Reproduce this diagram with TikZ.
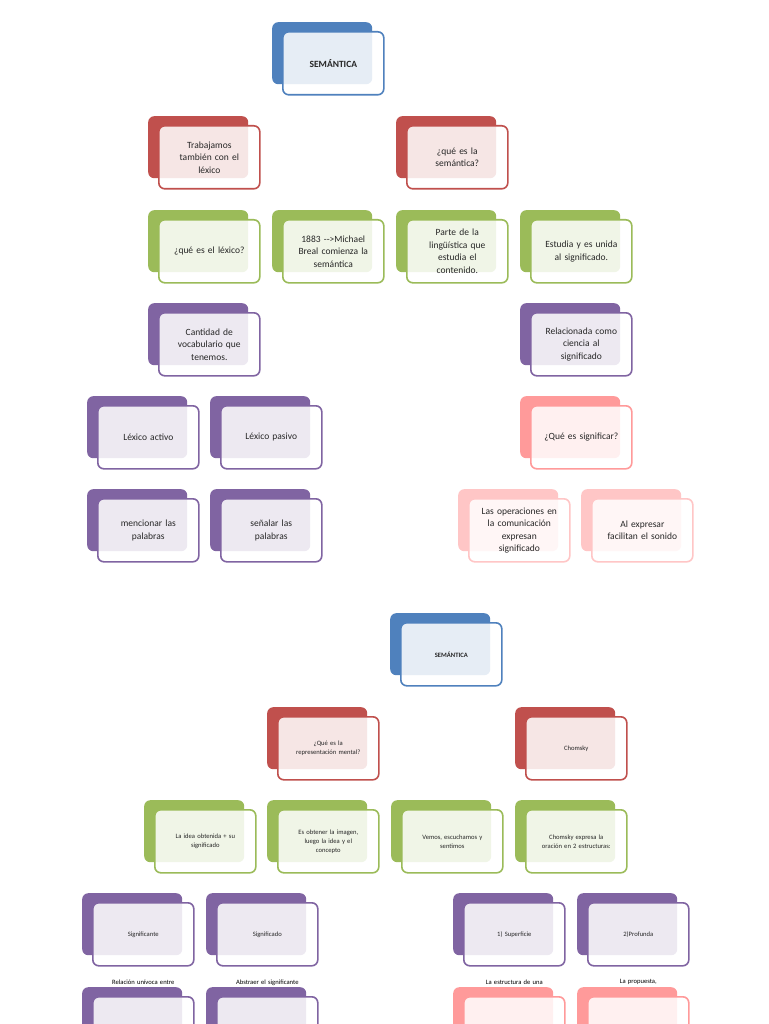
\documentclass[tikz,border=0pt]{standalone}
\usepackage{fontspec}
\setmainfont{Carlito}
\usetikzlibrary{calc,backgrounds}

\definecolor{cblue}{HTML}{4F81BD}
\definecolor{cred}{HTML}{C0504D}
\definecolor{cgreen}{HTML}{9BBB59}
\definecolor{cpurple}{HTML}{8064A2}
\definecolor{cpink}{HTML}{FF9A9A}
\definecolor{clpink}{HTML}{FFC6C6}

\tikzset{
  back/.style={anchor=north west,fill=#1,draw=none,rounded corners=6pt,
    minimum width=100pt,minimum height=62pt,inner sep=0pt},
  front/.style={anchor=north west,draw=#1,line width=1.6pt,fill=white,fill opacity=0.86,
    text opacity=1,rounded corners=6pt,minimum width=101pt,minimum height=63pt,
    align=center,text width=88pt,inner sep=0pt,text=black!85},
  big/.style={font=\fontsize{9.5}{12.5}\selectfont},
  small/.style={font=\fontsize{6.6}{9}\selectfont,text width=84pt},
  link/.style={draw=#1,line width=1.5pt}
}
% a card: name, x, y, colour, text, font style
\newcommand\card[6]{%
  \node[back=#4] (#1-b) at (#2,#3) {};
  \node[front=#4,#6] (#1) at ({#2+10},{#3+9}) {#5};}
% a card whose lower part runs off the page
\newcommand\cutcard[6]{%
  \node[back=#4] (#1-b) at (#2,#3) {};
  \node[front=#4] (#1) at ({#2+10},{#3+9}) {};
  \node[#6,align=center,anchor=north,text width=88pt] (#1-t) at ($(#1.north)+(0,-20)$) {#5};}
\newcommand\fork[3]{%
  \draw[link=#3] (#1-b.center) |- ($(#1.south)!0.5!(#2-b.north)$) -| (#2-b.north);}

\begin{document}
\begin{tikzpicture}[x=1pt,y=-1pt]
\useasboundingbox (0,0) rectangle (768,1024);
\clip (0,0) rectangle (768,1024);
\fill[white] (0,0) rectangle (768,1024);

% upper map
\card{sem}{272}{22}{cblue}{\textbf{SEMÁNTICA}}{big}
\card{lex}{148}{116}{cred}{Trabajamos\\también con el\\léxico}{big}
\card{que}{396}{116}{cred}{¿qué es la\\semántica?}{big}
\card{qlex}{148}{210}{cgreen}{¿qué es el léxico?}{big}
\card{breal}{272}{210}{cgreen}{1883 -{}->Michael\\Breal comienza la\\semántica}{big}
\card{parte}{396}{210}{cgreen}{Parte de la\\lingüística que\\estudia el\\contenido.}{big}
\card{estudia}{520}{210}{cgreen}{Estudia y es unida\\al significado.}{big}
\card{cant}{148}{303}{cpurple}{Cantidad de\\vocabulario que\\tenemos.}{big}
\card{relac}{520}{303}{cpurple}{Relacionada como\\ciencia al\\significado}{big}
\card{activo}{87}{396}{cpurple}{Léxico activo}{big}
\card{pasivo}{210}{396}{cpurple}{Léxico pasivo}{big}
\card{signif}{520}{396}{cpink}{¿Qué es significar?}{big}
\card{menc}{87}{489}{cpurple}{mencionar las\\palabras}{big}
\card{senal}{210}{489}{cpurple}{señalar las\\palabras}{big}
\card{oper}{458}{489}{clpink}{Las operaciones en\\la comunicación\\expresan\\significado}{big}
\card{expr}{581}{489}{clpink}{Al expresar\\facilitan el sonido}{big}

% lower map
\card{semb}{390}{613}{cblue}{\textbf{SEMÁNTICA}}{small}
\card{rep}{267}{707}{cred}{¿Qué es la\\representación mental?}{small}
\card{chom}{515}{707}{cred}{Chomsky}{small}
\card{idea}{144}{800}{cgreen}{La idea obtenida + su\\significado}{small}
\card{obt}{267}{800}{cgreen}{Es obtener la imagen,\\luego la idea y el\\concepto}{small}
\card{vemos}{391}{800}{cgreen}{Vemos, escuchamos y\\sentimos}{small}
\card{chexp}{515}{800}{cgreen}{Chomsky expresa la\\oración en 2 estructuras:}{small}
\card{ste}{82}{893}{cpurple}{Significante}{small}
\card{sdo}{206}{893}{cpurple}{Significado}{small}
\card{sup}{453}{893}{cpurple}{1) Superficie}{small}
\card{prof}{577}{893}{cpurple}{2)Profunda}{small}
\cutcard{rel}{82}{987}{cpurple}{Relación unívoca entre}{small}
\cutcard{abs}{206}{987}{cpurple}{Abstraer el significante}{small}
\cutcard{est}{453}{987}{cpink}{La estructura de una}{small}
\cutcard{prop}{577}{987}{cpink}{La propuesta,}{small}

\begin{scope}[on background layer]
\fork{sem}{lex}{cred}\fork{sem}{que}{cred}
\fork{lex}{qlex}{cgreen}
\foreach \c in {breal,parte,estudia} {\fork{que}{\c}{cgreen}}
\fork{qlex}{cant}{cpurple}
\fork{cant}{activo}{cpurple}\fork{cant}{pasivo}{cpurple}
\fork{activo}{menc}{cpurple}\fork{pasivo}{senal}{cpurple}
\fork{estudia}{relac}{cpurple}\fork{relac}{signif}{cpurple}
\fork{signif}{oper}{cpurple}\fork{signif}{expr}{cpurple}
\fork{semb}{rep}{cred}\fork{semb}{chom}{cred}
\foreach \c in {idea,obt,vemos} {\fork{rep}{\c}{cgreen}}
\fork{chom}{chexp}{cgreen}
\fork{idea}{ste}{cpurple}\fork{idea}{sdo}{cpurple}
\fork{chexp}{sup}{cpurple}\fork{chexp}{prof}{cpurple}
\fork{ste}{rel}{cpurple}\fork{sdo}{abs}{cpurple}
\fork{sup}{est}{cpurple}\fork{prof}{prop}{cpurple}
\end{scope}
\end{tikzpicture}
\end{document}
